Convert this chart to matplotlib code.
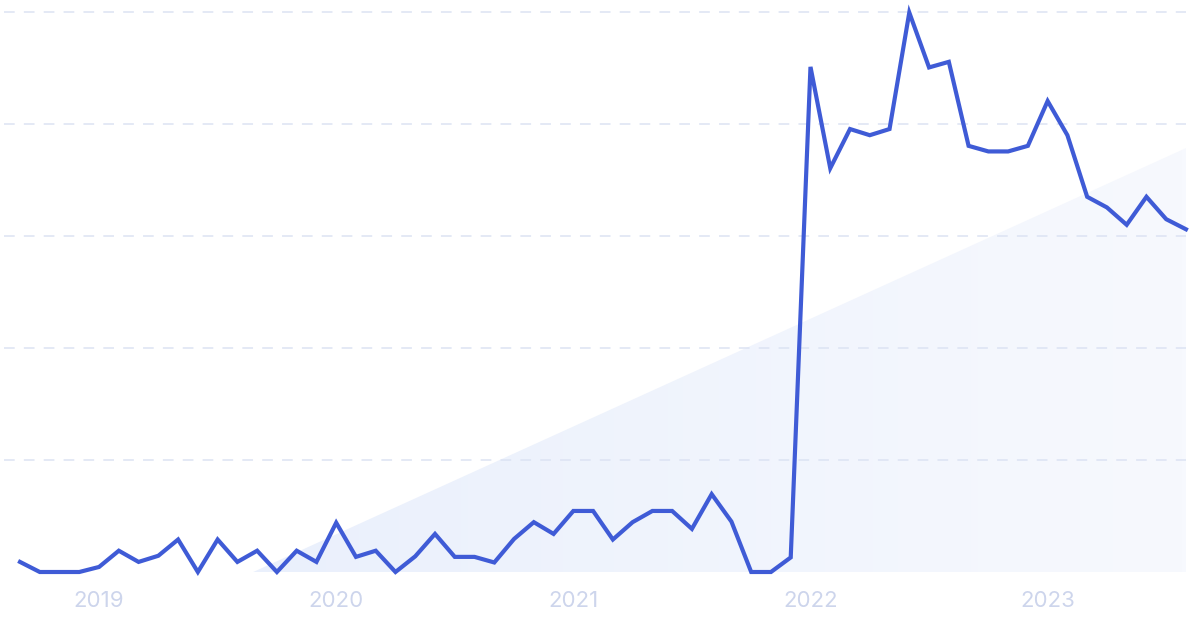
import numpy as np
import matplotlib
matplotlib.use("Agg")
import matplotlib.pyplot as plt
from matplotlib.patches import Polygon
from matplotlib.colors import LinearSegmentedColormap

# monthly interest, Sep 2018 .. Aug 2023
months = np.arange(60)
values = [
    1.8, 0, 0, 0,                                              # 2018 Sep-Dec
    0.9, 3.8, 1.8, 2.9, 5.8, 0, 5.8, 1.8, 3.8, 0, 3.8, 1.8,    # 2019
    8.8, 2.7, 3.8, 0, 2.8, 6.8, 2.7, 2.7, 1.7, 5.9, 8.9, 6.8,  # 2020
    10.9, 10.9, 5.8, 8.9, 10.9, 10.9, 7.7, 13.9, 9.0, 0, 0, 2.6,  # 2021
    90.2, 72.1, 79.1, 78.0, 79.1, 99.9, 90.1, 91.1, 76.1, 75.1, 75.1, 76.1,  # 2022
    84.1, 78.0, 67.0, 65.1, 62.0, 67.0, 63.0, 61.2,            # 2023 Jan-Aug
]
year_ticks = [4, 16, 28, 40, 52]
year_labels = ["2019", "2020", "2021", "2022", "2023"]
grid_levels = [20, 40, 60, 80, 100]
# trend wedge (start month, end month, end value)
trend_x = [11.8, 59]
trend_y = [0, 75.7]

fig = plt.figure(figsize=(12, 6.19), dpi=100)
ax = fig.add_axes([0, 47 / 619, 1, 560 / 619])

line_color = "#3F5BD6"
grid_color = "#DCE3F3"
label_color = "#CDD5EC"

ax.set_xlim(-1.012, 59.71)
ax.set_ylim(0, 100)

# gradient wedge
wedge = Polygon([(trend_x[0], trend_y[0]), (trend_x[1], trend_y[1]), (trend_x[1], 0)],
                closed=True, facecolor="none", edgecolor="none")
ax.add_patch(wedge)
cmap = LinearSegmentedColormap.from_list("wedge", ["#EAF0FC", "#F7F9FE"])
grad = np.linspace(0, 1, 256).reshape(1, -1)
im = ax.imshow(grad, cmap=cmap, aspect="auto",
               extent=[trend_x[0], trend_x[1], 0, trend_y[1]], zorder=1)
im.set_clip_path(wedge)

# dashed gridlines
for g in grid_levels:
    ax.hlines(g, -0.81, 59, colors=grid_color, linewidth=1.1,
              linestyles=(0, (7, 6)), zorder=2, clip_on=False)

ax.plot(months, values, color=line_color, linewidth=3.0, zorder=3,
        solid_joinstyle="miter", clip_on=False)

ax.set_xticks(year_ticks)
ax.set_xticklabels(year_labels, color=label_color, fontsize=16, family="Inter")
ax.tick_params(axis="x", length=0, pad=14)
ax.set_yticks([])
for s in ax.spines.values():
    s.set_visible(False)

fig.savefig("out.png", dpi=100)
